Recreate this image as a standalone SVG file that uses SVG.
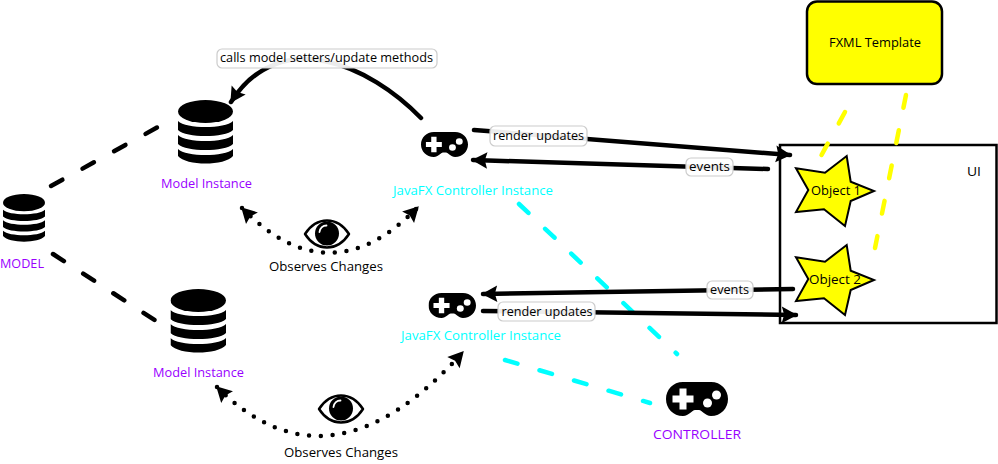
<svg xmlns="http://www.w3.org/2000/svg" width="998" height="464" viewBox="0 0 998 464">
<style>
text{font-family:"Open Sans","Liberation Sans",sans-serif;font-size:12.5px;fill:#000;text-anchor:start}
.p{fill:#9900ff}.c{fill:#00ffff}
.bk{fill:none;stroke:#000;stroke-width:4.500;stroke-linecap:round}
.dash{fill:none;stroke-width:4.500;stroke-linecap:round;stroke-dasharray:13 23}
.dot{fill:none;stroke:#000;stroke-width:4.500;stroke-linecap:round;stroke-dasharray:0 11.800}
.lb{fill:#fff;fill-opacity:.92;stroke:#ccc;stroke-width:1.200}
.star{fill:#ffff00;stroke:#000;stroke-width:2}
</style>
<defs>
<marker id="ah" viewBox="0 0 16 16" refX="14" refY="8" markerWidth="19" markerHeight="19" markerUnits="userSpaceOnUse" orient="auto-start-reverse"><path d="M15 8L2 1L4 8L2 15Z" fill="#000"/></marker>
<symbol id="db" viewBox="0 0 55 64" preserveAspectRatio="none">
<ellipse cx="27.500" cy="11.500" rx="27.500" ry="11.500"/>
<path d="M0 21C8 29 47 29 55 21V30C47 38 8 38 0 30Z"/>
<path d="M0 35C8 43 47 43 55 35V44C47 52 8 52 0 44Z"/>
<path d="M0 49C8 57 47 57 55 49V56C47 66 8 66 0 56Z"/>
</symbol>
<symbol id="pad" viewBox="0 0 62 34" preserveAspectRatio="none">
<path d="M17 0H45C55 0 62 7.600 62 17C62 26.400 55 34 45 34C39 34 36 28 33 28H29C26 28 23 34 17 34C7 34 0 26.400 0 17C0 7.600 7 0 17 0Z"/>
<path d="M13.500 6.500h7v7h7v7h-7v7h-7v-7h-7v-7h7z" fill="#fff"/>
<circle cx="50.500" cy="13" r="4.500" fill="#fff"/><circle cx="41.500" cy="21" r="4.500" fill="#fff"/>
</symbol>
<symbol id="eye" viewBox="0 0 47 30">
<path d="M1.500 15C8 5 16 1.500 23.500 1.500S39 5 45.500 15C39 25 31 28.500 23.500 28.500S8 25 1.500 15Z" fill="#fff" stroke="#000" stroke-width="2.500"/>
<circle cx="23.500" cy="14.500" r="12"/>
<path d="M16 13C16.500 9 19.500 6.500 23 6.500" fill="none" stroke="#fff" stroke-width="1.800" stroke-linecap="round"/>
</symbol>
</defs>

<g id="connectors">
<path class="dash" stroke="#000" d="M51 186L158 127"/>
<path class="dash" stroke="#000" d="M53 254L156 321"/>
<path class="dash" stroke="#00ffff" d="M519 204L677 354"/>
<path class="dash" stroke="#00ffff" d="M505 360L650 403"/>
<path class="bk" marker-end="url(#ah)" d="M421 118C370 65 280 25 231 102"/>
<path class="bk" marker-end="url(#ah)" d="M474 130L790 155"/>
<path class="bk" marker-end="url(#ah)" d="M768 169L473 160"/>
<path class="bk" marker-end="url(#ah)" d="M793 289L483 294"/>
<path class="bk" marker-end="url(#ah)" d="M483 311L796 315"/>
<path class="dot" marker-start="url(#ah)" marker-end="url(#ah)" d="M242 208Q330 298 418 207"/>
<path class="dot" marker-start="url(#ah)" marker-end="url(#ah)" d="M217 387Q330 500 463 352"/>
</g>

<g id="labels">
<g id="label-calls"><rect class="lb" x="217" y="49" width="220" height="19" rx="5"/><text x="220" y="62" textLength="213" lengthAdjust="spacingAndGlyphs">calls model setters/update methods</text></g>
<g id="label-render1"><rect class="lb" x="490" y="126" width="97" height="20" rx="5"/><text x="493" y="140" textLength="91" lengthAdjust="spacingAndGlyphs">render updates</text></g>
<g id="label-events1"><rect class="lb" x="686" y="158" width="47" height="18" rx="5"/><text x="689" y="171" textLength="41" lengthAdjust="spacingAndGlyphs">events</text></g>
<g id="label-events2"><rect class="lb" x="707" y="281" width="46" height="18" rx="5"/><text x="710" y="294" textLength="39" lengthAdjust="spacingAndGlyphs">events</text></g>
<g id="label-render2"><rect class="lb" x="498" y="302" width="97" height="19" rx="5"/><text x="501.500" y="316" textLength="91" lengthAdjust="spacingAndGlyphs">render updates</text></g>
</g>

<g id="ui"><rect x="780" y="145" width="216.500" height="178" fill="none" stroke="#000" stroke-width="2.500"/><text x="967" y="176" textLength="14" lengthAdjust="spacingAndGlyphs">UI</text></g>
<g id="fxml"><rect x="807" y="1.500" width="135" height="82.500" rx="10" fill="#ffff00" stroke="#000" stroke-width="2.500"/><text x="829" y="47" textLength="92" lengthAdjust="spacingAndGlyphs">FXML Template</text></g>
<g id="yellow-links">
<path class="dash" stroke="#ffff00" d="M845 112L821 156"/>
<path class="dash" stroke="#ffff00" d="M906 95L875 248"/>
</g>
<g id="object1"><path class="star" d="M796 168.300L825 172.700L846.700 156L850.700 181.700L874 191L850.700 201L845 226L824 209.300L796 212L808.300 190Z"/><text x="811" y="195" textLength="50" lengthAdjust="spacingAndGlyphs">Object 1</text></g>
<g id="object2"><path class="star" d="M796 257.300L825 261.700L846.700 245L850.700 270.700L874 280L850.700 290L845 315L824 298.300L796 301L808.300 279Z"/><text x="809" y="284" textLength="52" lengthAdjust="spacingAndGlyphs">Object 2</text></g>

<g id="model"><use href="#db" x="3" y="194" width="42" height="48"/><text class="p" x="0" y="268" textLength="44" lengthAdjust="spacingAndGlyphs">MODEL</text></g>
<g id="model-instance-1"><use href="#db" x="178" y="100" width="55" height="64"/><text class="p" x="161" y="188" textLength="91" lengthAdjust="spacingAndGlyphs">Model Instance</text></g>
<g id="model-instance-2"><use href="#db" x="170.500" y="289" width="55.500" height="64"/><text class="p" x="153" y="377" textLength="91" lengthAdjust="spacingAndGlyphs">Model Instance</text></g>
<g id="controller-instance-1"><use href="#pad" x="421" y="132" width="47" height="25"/><text class="c" x="393" y="195" textLength="160" lengthAdjust="spacingAndGlyphs">JavaFX Controller Instance</text></g>
<g id="controller-instance-2"><use href="#pad" x="428.500" y="293" width="47.500" height="25"/><text class="c" x="401" y="340" textLength="160" lengthAdjust="spacingAndGlyphs">JavaFX Controller Instance</text></g>
<g id="controller"><use href="#pad" x="666" y="382" width="62" height="34"/><text class="p" x="653" y="439" textLength="88" lengthAdjust="spacingAndGlyphs">CONTROLLER</text></g>
<g id="observer-1"><use href="#eye" x="303.500" y="219" width="47" height="30"/><text x="269" y="271" textLength="114" lengthAdjust="spacingAndGlyphs">Observes Changes</text></g>
<g id="observer-2"><use href="#eye" x="317.500" y="394" width="47" height="30"/><text x="284" y="457" textLength="114" lengthAdjust="spacingAndGlyphs">Observes Changes</text></g>
</svg>
